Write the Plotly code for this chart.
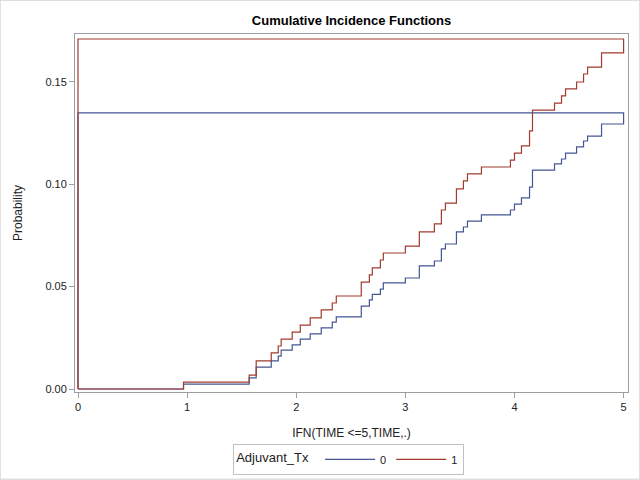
import plotly.graph_objects as go

# Shared event times (years)
times = [0.967, 1.569, 1.633, 1.771, 1.835, 1.862, 1.963, 2.037, 2.128, 2.229,
         2.330, 2.367, 2.596, 2.670, 2.697, 2.771, 2.798, 3.000, 3.128, 3.266,
         3.330, 3.367, 3.468, 3.532, 3.569, 3.697, 3.963, 4.000, 4.064, 4.138,
         4.165, 4.367, 4.431, 4.468, 4.569, 4.633, 4.670, 4.798, 5.000]

cif_0 = [0.0024, 0.0054, 0.0107, 0.0137, 0.0161, 0.0190, 0.0215, 0.0244, 0.0269, 0.0298,
         0.0327, 0.0352, 0.0405, 0.0435, 0.0462, 0.0488, 0.0518, 0.0542, 0.0601, 0.0625,
         0.0684, 0.0708, 0.0767, 0.0791, 0.0820, 0.0850, 0.0874, 0.0903, 0.0933, 0.0986,
         0.1069, 0.1099, 0.1123, 0.1152, 0.1182, 0.1211, 0.1235, 0.1294, 0.1348]

cif_1 = [0.0034, 0.0068, 0.0137, 0.0176, 0.0210, 0.0244, 0.0278, 0.0312, 0.0347, 0.0386,
         0.0420, 0.0454, 0.0522, 0.0557, 0.0591, 0.0630, 0.0664, 0.0698, 0.0767, 0.0806,
         0.0874, 0.0908, 0.0977, 0.1016, 0.1050, 0.1084, 0.1118, 0.1152, 0.1187, 0.1260,
         0.1362, 0.1396, 0.1431, 0.1465, 0.1499, 0.1538, 0.1572, 0.1641, 0.1709]

groups = ["0", "1"]
colors = ["#445694", "#A23A2E"]

fig = go.Figure()
for name, vals, col in zip(groups, [cif_0, cif_1], colors):
    # SAS series wraps back to time 0 after the last point
    xs = [0] + times + [0, 0]
    ys = [0] + vals + [vals[-1], 0]
    fig.add_trace(go.Scatter(x=xs, y=ys, mode="lines", name=name,
                             line=dict(color=col, width=1.2, shape="hv")))

L, R, T, B = 75.3, 627.7, 34.3, 392.3
W, H = R - L, B - T
axis_col = "#9a9fa6"
font_fam = "Liberation Sans, Arial, sans-serif"

fig.update_layout(
    width=640, height=480,
    margin=dict(l=L, r=640 - R, t=T, b=480 - B, autoexpand=False),
    paper_bgcolor="white", plot_bgcolor="white",
    font=dict(family=font_fam, size=11, color="#222"),
    title=dict(text="<b>Cumulative Incidence Functions</b>", x=(351.5) / 640, xanchor="center",
               y=1 - 20 / 480, yanchor="middle", font=dict(size=13, color="black")),
    showlegend=True,
    legend=dict(orientation="h", x=(348.7 - L) / W, xanchor="center",
                y=(B - 459.7) / H, yanchor="middle",
                title=dict(text="Adjuvant_Tx ", side="left"),
                bordercolor="#c0c0c0", borderwidth=1, bgcolor="white",
                font=dict(size=11, color="#222"), itemwidth=50),
    xaxis=dict(range=[(L - 78.3) / 109, (R - 78.3) / 109], tickvals=[0, 1, 2, 3, 4, 5],
               showgrid=False, zeroline=False, showline=True, linecolor=axis_col, linewidth=1,
               mirror=True, ticks="outside", tickcolor=axis_col, ticklen=5,
               title=dict(text="IFN(TIME <=5,TIME,.)", standoff=16, font=dict(size=12))),
    yaxis=dict(range=[(389.3 - B) / 2048, (389.3 - T) / 2048], tickvals=[0, 0.05, 0.10, 0.15],
               tickformat=".2f",
               showgrid=False, zeroline=False, showline=True, linecolor=axis_col, linewidth=1,
               mirror=True, ticks="outside", tickcolor=axis_col, ticklen=5,
               title=dict(text="Probability", standoff=20, font=dict(size=12))),
)

# outer image border
fig.add_shape(type="rect", xref="paper", yref="paper",
              x0=(0.5 - L) / W, x1=(639.5 - L) / W,
              y0=(B - 479.5) / H, y1=(B - 0.5) / H,
              line=dict(color="#d0d0d0", width=1), fillcolor="rgba(0,0,0,0)", layer="below")

fig.write_html("out.html", config={"displayModeBar": False},
               post_script="document.body.style.margin='0';document.body.style.overflow='hidden';")
